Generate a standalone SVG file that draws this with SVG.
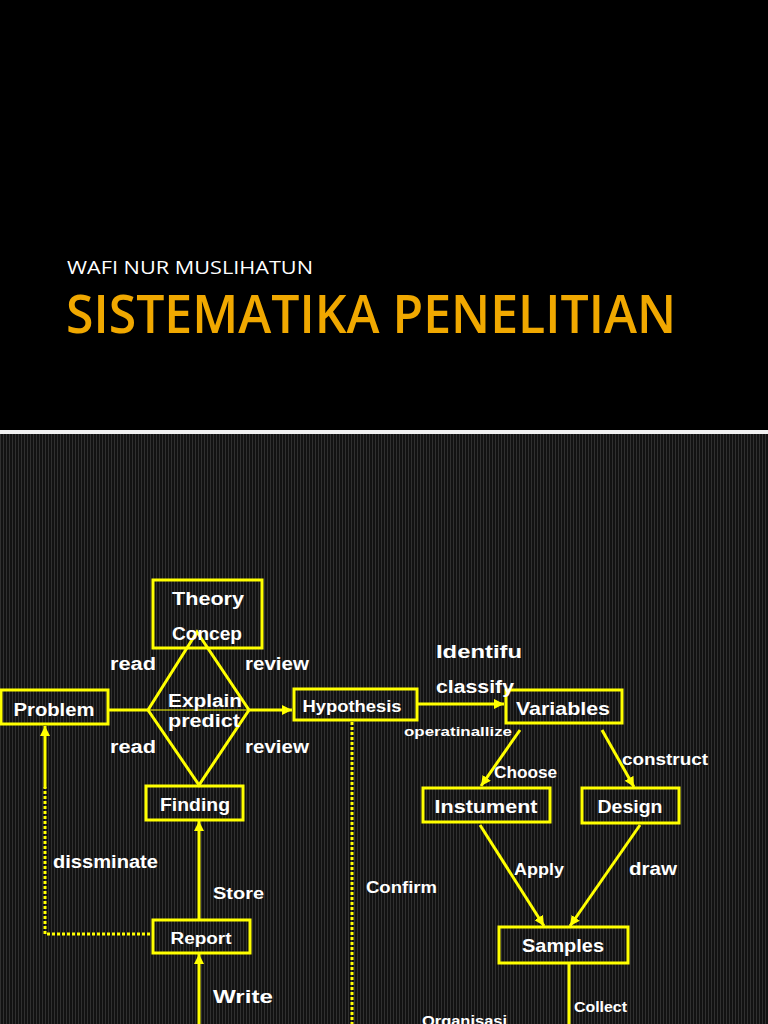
<svg xmlns="http://www.w3.org/2000/svg" width="768" height="1024" viewBox="0 0 768 1024">
<defs>
<pattern id="stripes" width="3" height="10" patternUnits="userSpaceOnUse">
<rect width="3" height="10" fill="#121212"/>
<rect x="0" width="1" height="10" fill="#303030"/>
</pattern>
<marker id="ah" viewBox="0 0 10 10" refX="10" refY="5" markerWidth="10" markerHeight="10" markerUnits="userSpaceOnUse" orient="auto">
<path d="M0,0 L10,5 L0,10 z" fill="#FFFF00"/>
</marker>
</defs>
<style>
.box{fill:none;stroke:#FFFF00;stroke-width:3}
.ln{fill:none;stroke:#FFFF00;stroke-width:3}
.dot{fill:none;stroke:#FFFF00;stroke-width:3;stroke-dasharray:3 2}
.lb{fill:#FFFFFF;font-family:"Liberation Sans",Arial,sans-serif;font-weight:bold}
</style>
<rect width="768" height="1024" fill="#000"/>
<rect x="0" y="434" width="768" height="590" fill="url(#stripes)"/>
<rect x="0" y="430" width="768" height="4" fill="#F0F0F0"/>
<text x="67" y="274" fill="#FFFFFF" font-family="'Open Sans','Noto Sans',sans-serif" font-size="18" textLength="246" lengthAdjust="spacingAndGlyphs">WAFI NUR MUSLIHATUN</text>
<text x="66" y="333" fill="#F0A800" font-family="'Open Sans','Noto Sans',sans-serif" font-weight="600" font-size="52" textLength="610" lengthAdjust="spacingAndGlyphs">SISTEMATIKA PENELITIAN</text>
<g id="connectors">
<polygon class="ln" points="148,710 197,632 249,710 199,785"/>
<line class="ln" x1="108" y1="710" x2="148" y2="710"/>
<line x1="148" y1="710" x2="249" y2="710" stroke="#FFFF00" stroke-width="1"/>
<line class="ln" x1="249" y1="710" x2="292" y2="710" marker-end="url(#ah)"/>
<line class="ln" x1="417" y1="704" x2="504" y2="704" marker-end="url(#ah)"/>
<line class="ln" x1="520" y1="730" x2="481" y2="786" marker-end="url(#ah)"/>
<line class="ln" x1="602" y1="730" x2="634" y2="787" marker-end="url(#ah)"/>
<line class="ln" x1="480" y1="825" x2="544" y2="926" marker-end="url(#ah)"/>
<line class="ln" x1="640" y1="825" x2="570" y2="926" marker-end="url(#ah)"/>
<line class="ln" x1="569" y1="963" x2="569" y2="1024"/>
<line class="ln" x1="199" y1="920" x2="199" y2="821" marker-end="url(#ah)"/>
<line class="ln" x1="199" y1="1024" x2="199" y2="954" marker-end="url(#ah)"/>
<polyline class="dot" points="150,934 45,934 45,787"/>
<line class="ln" x1="45" y1="788" x2="45" y2="726" marker-end="url(#ah)"/>
<line class="dot" x1="352" y1="722" x2="352" y2="1024"/>
</g>
<g id="theory"><rect class="box" x="153" y="580" width="109" height="68"/>
<text class="lb" x="208" y="605" font-size="19" text-anchor="middle" textLength="72" lengthAdjust="spacingAndGlyphs">Theory</text>
<text class="lb" x="207" y="640" font-size="19" text-anchor="middle" textLength="70" lengthAdjust="spacingAndGlyphs">Concep</text></g>
<g id="problem"><rect class="box" x="1" y="690" width="107" height="34"/>
<text class="lb" x="54" y="716" font-size="18" text-anchor="middle" textLength="81" lengthAdjust="spacingAndGlyphs">Problem</text></g>
<g id="hypothesis"><rect class="box" x="294" y="689" width="123" height="31"/>
<text class="lb" x="352" y="712" font-size="17" text-anchor="middle" textLength="99" lengthAdjust="spacingAndGlyphs">Hypothesis</text></g>
<g id="variables"><rect class="box" x="506" y="690" width="116" height="33"/>
<text class="lb" x="563" y="715" font-size="19" text-anchor="middle" textLength="94" lengthAdjust="spacingAndGlyphs">Variables</text></g>
<g id="instument"><rect class="box" x="423" y="788" width="127" height="34"/>
<text class="lb" x="486" y="813" font-size="19" text-anchor="middle" textLength="103" lengthAdjust="spacingAndGlyphs">Instument</text></g>
<g id="design"><rect class="box" x="582" y="788" width="97" height="35"/>
<text class="lb" x="630" y="813" font-size="19" text-anchor="middle" textLength="65" lengthAdjust="spacingAndGlyphs">Design</text></g>
<g id="samples"><rect class="box" x="499" y="927" width="129" height="36"/>
<text class="lb" x="563" y="952" font-size="19" text-anchor="middle" textLength="82" lengthAdjust="spacingAndGlyphs">Samples</text></g>
<g id="finding"><rect class="box" x="146" y="786" width="97" height="34"/>
<text class="lb" x="195" y="811" font-size="19" text-anchor="middle" textLength="70" lengthAdjust="spacingAndGlyphs">Finding</text></g>
<g id="report"><rect class="box" x="153" y="920" width="97" height="33"/>
<text class="lb" x="201" y="944" font-size="16" text-anchor="middle" textLength="61" lengthAdjust="spacingAndGlyphs">Report</text></g>
<g id="labels">
<text class="lb" x="110" y="670" font-size="18" textLength="46" lengthAdjust="spacingAndGlyphs">read</text>
<text class="lb" x="245" y="670" font-size="18" textLength="64" lengthAdjust="spacingAndGlyphs">review</text>
<text class="lb" x="168" y="707" font-size="18" textLength="74" lengthAdjust="spacingAndGlyphs">Explain</text>
<text class="lb" x="168" y="727" font-size="18" textLength="72" lengthAdjust="spacingAndGlyphs">predict</text>
<text class="lb" x="110" y="753" font-size="18" textLength="46" lengthAdjust="spacingAndGlyphs">read</text>
<text class="lb" x="245" y="753" font-size="18" textLength="64" lengthAdjust="spacingAndGlyphs">review</text>
<text class="lb" x="436" y="658" font-size="18" textLength="86" lengthAdjust="spacingAndGlyphs">Identifu</text>
<text class="lb" x="436" y="693" font-size="18" textLength="78" lengthAdjust="spacingAndGlyphs">classify</text>
<text class="lb" x="404" y="736" font-size="13" textLength="108" lengthAdjust="spacingAndGlyphs">operatinallize</text>
<text class="lb" x="494" y="778" font-size="16" textLength="63" lengthAdjust="spacingAndGlyphs">Choose</text>
<text class="lb" x="622" y="765" font-size="16" textLength="86" lengthAdjust="spacingAndGlyphs">construct</text>
<text class="lb" x="514" y="875" font-size="17" textLength="50" lengthAdjust="spacingAndGlyphs">Apply</text>
<text class="lb" x="629" y="875" font-size="18" textLength="48" lengthAdjust="spacingAndGlyphs">draw</text>
<text class="lb" x="366" y="893" font-size="17" textLength="71" lengthAdjust="spacingAndGlyphs">Confirm</text>
<text class="lb" x="53" y="868" font-size="18" textLength="105" lengthAdjust="spacingAndGlyphs">dissminate</text>
<text class="lb" x="213" y="899" font-size="17" textLength="51" lengthAdjust="spacingAndGlyphs">Store</text>
<text class="lb" x="213" y="1003" font-size="19" textLength="60" lengthAdjust="spacingAndGlyphs">Write</text>
<text class="lb" x="574" y="1012" font-size="15" textLength="53" lengthAdjust="spacingAndGlyphs">Collect</text>
<text class="lb" x="422" y="1026" font-size="15" textLength="85" lengthAdjust="spacingAndGlyphs">Organisasi</text>
</g>
</svg>
